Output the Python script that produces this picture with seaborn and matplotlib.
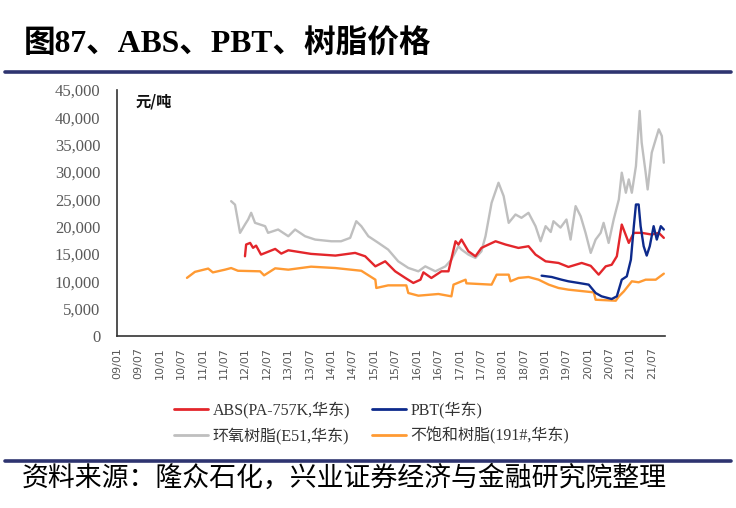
import matplotlib
matplotlib.use("Agg")
import matplotlib.pyplot as plt
from matplotlib.lines import Line2D
import pandas as pd
import seaborn as sns

# ---- data ----
abs_dates = ["2011-12-29", "2012-01-08", "2012-02-11", "2012-03-07", "2012-04-02", "2012-05-14",
             "2012-09-12", "2012-11-03", "2013-01-02", "2013-07-15", "2014-02-08", "2014-07-26",
             "2014-10-20", "2015-01-15", "2015-04-09", "2015-07-03", "2015-09-28", "2015-12-05",
             "2016-02-04", "2016-02-29", "2016-05-07", "2016-08-01", "2016-09-30", "2016-11-29",
             "2016-12-24", "2017-01-19", "2017-03-19", "2017-05-18", "2017-07-08", "2017-09-07",
             "2017-11-06", "2018-01-30", "2018-05-20", "2018-08-14", "2018-10-13", "2019-01-07",
             "2019-04-27", "2019-07-21", "2019-11-11", "2020-01-27", "2020-04-04", "2020-06-03",
             "2020-07-24", "2020-09-06", "2020-10-18", "2020-12-17", "2021-01-29", "2021-04-06",
             "2021-07-01", "2021-08-30", "2021-10-12"]
abs_vals = [14550, 16700, 17000, 16100, 16500, 14860,
            15900, 15040, 15650, 14990, 14680, 15170,
            14550, 12710, 13630, 11800, 10580, 9670,
            10270, 11610, 10580, 11800, 11800, 17300,
            16700, 17610, 15460, 14550, 16080, 16700,
            17300, 16700, 16080, 16390, 14860, 13630,
            13330, 12600, 13330, 12800, 11190, 12710,
            13000, 14550, 20360, 17000, 18840, 18840,
            18530, 18840, 17920]

pbt_dates = ["2018-12-04", "2019-02-28", "2019-05-23", "2019-07-21", "2019-10-16", "2020-01-10",
             "2020-03-09", "2020-04-29", "2020-07-24", "2020-09-06", "2020-10-18", "2020-11-30",
             "2021-01-04", "2021-01-29", "2021-02-16", "2021-03-11", "2021-03-28", "2021-04-23",
             "2021-05-19", "2021-06-14", "2021-07-17", "2021-08-13", "2021-09-16", "2021-10-12"]
pbt_vals = [11000, 10760, 10270, 9970, 9670, 9360,
            7830, 7220, 6730, 7220, 10270, 10880,
            13940, 20060, 24030, 24030, 20060, 16390,
            14680, 16390, 20060, 17610, 20060, 19450]

epoxy_dates = ["2011-09-02", "2011-10-05", "2011-11-17", "2011-12-29", "2012-01-25", "2012-02-20",
               "2012-03-24", "2012-06-18", "2012-07-13", "2012-10-07", "2013-01-02", "2013-03-01",
               "2013-05-25", "2013-08-19", "2014-01-04", "2014-03-28", "2014-06-14", "2014-08-05",
               "2014-09-17", "2014-11-16", "2015-02-10", "2015-05-04", "2015-07-29", "2015-10-23",
               "2016-01-17", "2016-03-16", "2016-06-10", "2016-09-04", "2016-10-25", "2016-12-24",
               "2017-01-19", "2017-03-19", "2017-05-18", "2017-07-08", "2017-08-12", "2017-10-03",
               "2017-12-01", "2018-01-14", "2018-02-26", "2018-04-25", "2018-06-15", "2018-08-14",
               "2018-10-13", "2018-11-25", "2019-01-07", "2019-02-20", "2019-03-15", "2019-05-14",
               "2019-07-04", "2019-08-08", "2019-09-20", "2019-11-02", "2019-12-14", "2020-01-27",
               "2020-03-09", "2020-04-21", "2020-05-16", "2020-06-28", "2020-08-10", "2020-09-23",
               "2020-10-18", "2020-11-22", "2020-12-17", "2021-01-12", "2021-02-16", "2021-03-20",
               "2021-04-06", "2021-05-10", "2021-05-27", "2021-07-01", "2021-08-04", "2021-08-30",
               "2021-09-25", "2021-10-12"]
epoxy_vals = [24640, 24000, 18840, 20360, 21280, 22510,
              20670, 20060, 18840, 19450, 18220, 19450,
              18220, 17610, 17300, 17300, 17920, 20970,
              20060, 18220, 17000, 15780, 13630, 12420,
              11800, 12710, 11800, 12710, 13940, 16390,
              15780, 14860, 14250, 15460, 18220, 24340,
              28010, 25560, 20670, 22200, 21590, 22510,
              20060, 17300, 20060, 19000, 20970, 19800,
              21280, 17610, 23730, 21890, 18840, 15170,
              17610, 18840, 20670, 17000, 21280, 24950,
              29850, 26180, 28620, 26180, 31060, 41150,
              35350, 29850, 26780, 33520, 35960, 37790,
              36560, 31680]

upr_dates = ["2010-08-21", "2010-10-28", "2011-02-18", "2011-03-30", "2011-07-11", "2011-09-02",
             "2011-10-30", "2012-05-06", "2012-06-09", "2012-09-12", "2013-01-02", "2013-07-15",
             "2014-02-08", "2014-09-17", "2015-01-15", "2015-01-23", "2015-05-04", "2015-10-06",
             "2015-10-23", "2016-01-17", "2016-07-06", "2016-10-25", "2016-11-12", "2017-02-23",
             "2017-03-02", "2017-10-03", "2017-11-15", "2018-02-26", "2018-03-13", "2018-05-20",
             "2018-08-14", "2018-11-08", "2019-02-03", "2019-04-27", "2019-07-21", "2020-02-22",
             "2020-03-09", "2020-08-28", "2020-09-23", "2020-11-05", "2021-01-12", "2021-03-11",
             "2021-05-10", "2021-08-04", "2021-10-12"]
upr_vals = [10600, 11700, 12300, 11600, 12100, 12400,
            11900, 11800, 11060, 12350, 12100, 12650,
            12400, 11900, 10270, 8750, 9230, 9230,
            7830, 7340, 7650, 7220, 9360, 10270,
            9600, 9360, 11190, 11190, 9970, 10580,
            10760, 10270, 9360, 8750, 8440, 7950,
            6600, 6420, 7200, 8130, 9970, 9790,
            10270, 10270, 11370]

series_names = ["ABS(PA-757K,华东)", "PBT(华东)", "环氧树脂(E51,华东)", "不饱和树脂(191#,华东)"]
colors = ["#E3262B", "#0D2A8C", "#BFBFBF", "#FF9A33"]

frames = []
for name, d, v in zip(series_names,
                      [abs_dates, pbt_dates, epoxy_dates, upr_dates],
                      [abs_vals, pbt_vals, epoxy_vals, upr_vals]):
    frames.append(pd.DataFrame({"date": pd.to_datetime(d), "price": v, "series": name}))
df = pd.concat(frames, ignore_index=True)

# ---- style ----
sns.set_style("white")
cn_serif = ["Liberation Serif", "Noto Sans CJK SC"]
cn_sans = ["Noto Sans CJK SC", "DejaVu Sans"]
plt.rcParams["font.family"] = cn_serif

fig = plt.figure(figsize=(7.36, 5.08), dpi=100)
ax = fig.add_axes([0.159, 0.339, 0.745, 0.484])

# grey & orange first so red/blue sit on top
for i in [2, 3, 0, 1]:
    sub = df[df["series"] == series_names[i]]
    sns.lineplot(data=sub, x="date", y="price", color=colors[i], lw=1.7,
                 ax=ax, legend=False, estimator=None, sort=True)

ax.set_ylim(0, 45000)
ax.set_yticks(range(0, 45001, 5000))
ax.set_yticklabels([f"{v:,}" for v in range(0, 45001, 5000)], color="#595959", fontsize=12)
ax.set_xlim(pd.Timestamp("2009-01-01"), pd.Timestamp("2021-10-25"))
xt = pd.date_range("2009-01-01", "2021-07-01", freq="6MS")
ax.set_xticks(xt)
ax.set_xticklabels([t.strftime("%y/%m") for t in xt], rotation=90, color="#595959",
                   fontsize=8, family="DejaVu Sans")
ax.tick_params(axis="x", direction="in", length=4, width=1, color="#333333", pad=8)
ax.tick_params(axis="y", direction="out", length=4, width=1, color="#333333", pad=8)
ax.set_xlabel("")
ax.set_ylabel("")
for s in ["top", "right"]:
    ax.spines[s].set_visible(False)
for s in ["left", "bottom"]:
    ax.spines[s].set_color("#333333")
    ax.spines[s].set_linewidth(1.2)
ax.grid(False)

ax.text(0.033, 0.985, "元/吨", transform=ax.transAxes, fontsize=11, fontweight="bold",
        family=cn_sans, va="top", ha="left", color="#111111")

# legend: row 1 ABS, PBT ; row 2 epoxy, unsaturated (column-wise fill)
leg_order = [0, 2, 1, 3]
handles = [Line2D([], [], color=colors[i], lw=2) for i in leg_order]
labels = [series_names[i] for i in leg_order]
fig.legend(handles, labels, loc="upper left", bbox_to_anchor=(0.217, 0.238),
           ncol=2, frameon=False, fontsize=11.5, handlelength=2.1, handletextpad=0.3,
           columnspacing=1.4, labelspacing=0.55, labelcolor="#333333")

# header / footer
fig.text(0.032, 0.912, "图87、ABS、PBT、树脂价格", fontsize=22.8, fontweight="bold",
         family=cn_serif, va="center", ha="left", color="black")
fig.add_artist(Line2D([0.007, 0.993], [0.858, 0.858], color="#2E3470", lw=2.6))
fig.add_artist(Line2D([0.007, 0.993], [0.092, 0.092], color="#2E3470", lw=2.6))
fig.text(0.03, 0.057, "资料来源：隆众石化，兴业证券经济与金融研究院整理", fontsize=19.4,
         family=cn_serif, va="center", ha="left", color="black")

fig.savefig("out.png", dpi=100)
